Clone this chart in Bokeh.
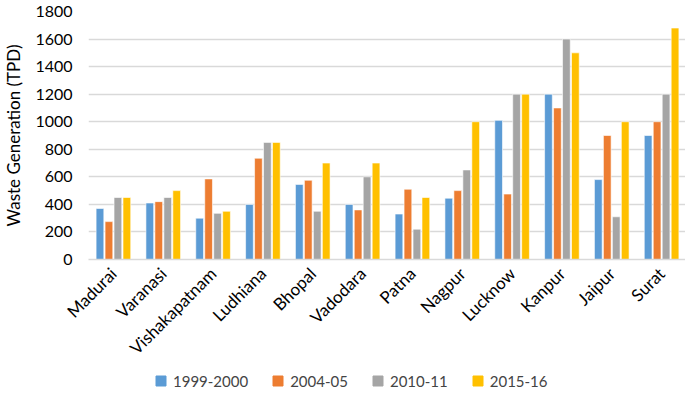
from bokeh.plotting import figure
from bokeh.models import ColumnDataSource, Legend, LegendItem, FactorRange
from bokeh.layouts import column
from bokeh.transform import dodge
from bokeh.embed import file_html
from bokeh.resources import INLINE
import math

cities = ["Madurai", "Varanasi", "Vishakapatnam", "Ludhiana", "Bhopal", "Vadodara",
          "Patna", "Nagpur", "Lucknow", "Kanpur", "Jaipur", "Surat"]
series_names = ["1999-2000", "2004-05", "2010-11", "2015-16"]
y1999 = [370, 410, 300, 400, 545, 400, 330, 445, 1010, 1200, 580, 900]
y2004 = [275, 420, 585, 735, 575, 360, 510, 500, 475, 1100, 900, 1000]
y2010 = [450, 450, 335, 850, 350, 600, 220, 650, 1200, 1600, 310, 1200]
y2015 = [450, 500, 350, 850, 700, 700, 450, 1000, 1200, 1500, 1000, 1680]
colors = ["#5B9BD5", "#ED7D31", "#A5A5A5", "#FFC000"]

source = ColumnDataSource(dict(city=cities, a=y1999, b=y2004, c=y2010, d=y2015))

FONT = "Lato"
p = figure(x_range=FactorRange(*cities, range_padding=0.0), y_range=(0, 1800),
           frame_width=598, frame_height=248, output_backend="svg", toolbar_location=None,
           min_border_left=0, min_border_right=0, min_border_top=11, min_border_bottom=0)
p.outline_line_color = None
p.background_fill_color = "white"

offsets = [-0.27, -0.09, 0.09, 0.27]
renderers = []
for key, off, col in zip(["a", "b", "c", "d"], offsets, colors):
    r = p.vbar(x=dodge("city", off, range=p.x_range), top=key, width=0.155,
               source=source, fill_color=col, line_color="white", line_width=0.6)
    renderers.append(r)

p.xgrid.grid_line_color = None
p.ygrid.grid_line_color = "#D9D9D9"
p.ygrid.grid_line_width = 1.3
p.yaxis.ticker = [0, 200, 400, 600, 800, 1000, 1200, 1400, 1600, 1800]
p.yaxis.axis_line_color = None
p.yaxis.major_tick_line_color = None
p.yaxis.minor_tick_line_color = None
p.yaxis.major_label_text_font = FONT
p.yaxis.major_label_text_font_size = "16px"
p.yaxis.major_label_text_color = "#000000"
p.yaxis.major_label_standoff = 10
p.yaxis.axis_label = "Waste Generation (TPD)"
p.yaxis.axis_label_text_font = FONT
p.yaxis.axis_label_text_font_style = "normal"
p.yaxis.axis_label_text_font_size = "17px"
p.yaxis.axis_label_text_color = "#000000"
p.yaxis.axis_label_standoff = 8

p.xaxis.axis_line_color = "#D9D9D9"
p.xaxis.axis_line_width = 1.3
p.xaxis.major_tick_line_color = None
p.xaxis.minor_tick_line_color = None
p.xaxis.major_label_orientation = math.pi / 4
p.xaxis.major_label_text_font = FONT
p.xaxis.major_label_text_font_size = "17px"
p.xaxis.major_label_text_color = "#000000"
p.xaxis.major_label_standoff = 5

# legend in a slim companion panel below the chart (swatch glyphs sit outside its view)
leg = figure(width=669, height=30, output_backend="svg", toolbar_location=None,
             min_border=0, x_range=(0, 1), y_range=(0, 1),
             x_axis_type=None, y_axis_type=None)
leg.grid.visible = False
leg.outline_line_color = None
swatch = ColumnDataSource(dict(x=[-5], y=[-5]))
leg_renderers = [leg.scatter(x="x", y="y", marker="square", size=10, source=swatch,
                             fill_color=c, line_color=c) for c in colors]
items = [LegendItem(label=n, renderers=[r]) for n, r in zip(series_names, leg_renderers)]
legend = Legend(items=items, orientation="horizontal", location=(60, 5),
                label_text_font=FONT, label_text_font_size="15px",
                glyph_width=25, glyph_height=25, label_height=12,
                spacing=17, label_standoff=0,
                border_line_color=None, background_fill_alpha=0, margin=0, padding=0)
leg.add_layout(legend, "center")

layout = column(p, leg, spacing=0)
open("out.html", "w").write(file_html(layout, INLINE))
